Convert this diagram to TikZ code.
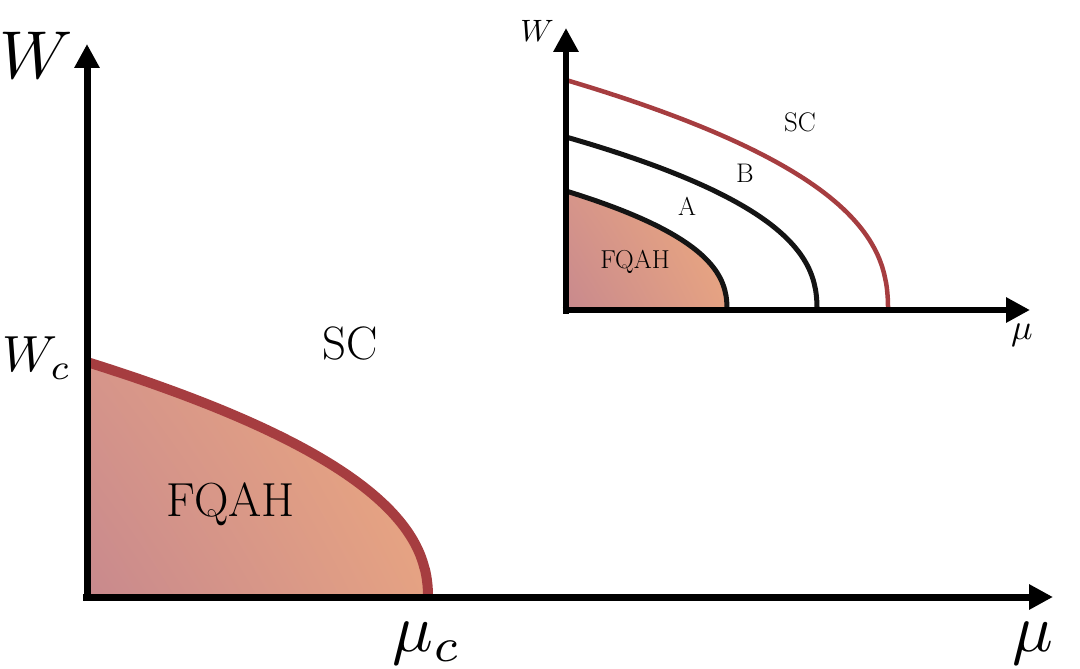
\documentclass[tikz,border=0pt]{standalone}
\usetikzlibrary{arrows.meta,shadings}
\definecolor{curvered}{HTML}{A63D40}
\definecolor{curveblack}{HTML}{141414}
\definecolor{fillLL}{HTML}{C8898D}
\definecolor{fillUL}{HTML}{D6958A}
\definecolor{fillLR}{HTML}{E5A283}
\definecolor{fillUR}{HTML}{EDAA7E}
\begin{document}
\begin{tikzpicture}[x=1bp,y=-1bp,
  axis/.style={line width=7bp,-{Triangle[length=24bp,width=24bp]}},
  iaxis/.style={line width=6.5bp,-{Triangle[length=24bp,width=24bp]}},
  phase/.style={lower left=fillLL,upper left=fillUL,lower right=fillLR,upper right=fillUR},
  lab/.style={inner sep=0pt,anchor=center},
]
\useasboundingbox (0,0) rectangle (1080,669);

% ---------- main diagram ----------
\coordinate (O) at (87,597);
\coordinate (Wtip) at (87,44);
\coordinate (Mtip) at (1053,597);
\coordinate (Obot) at (87,601);
\coordinate (Oleft) at (83,597);

\shade[phase] (O) -- plot[domain=0.001:1,samples=80,variable=\t]
  ({87+341*(1-pow(\t,2.2))},{597-235*\t}) -- cycle;
\draw[curvered,line width=10bp] plot[domain=0.001:1,samples=80,variable=\t]
  ({87+341*(1-pow(\t,2.2))},{597-235*\t});

\draw[axis] (Obot) -- (Wtip);
\draw[axis] (Oleft) -- (Mtip);

\node[lab,scale=6.8] (W) at (36,55) {$W$};
\node[lab,scale=5.1] (Wc) at (37,358) {$W_c$};
\node[lab] (SC) at (350,344) {\fontsize{47}{47}\selectfont SC};
\node[lab] (FQAH) at (231,504) {\fontsize{48}{48}\selectfont FQAH};
\node[lab,scale=6.8] (muc) at (427,643) {$\mu_c$};
\node[lab,scale=6.8] (mu) at (1033,643) {$\mu$};

% ---------- inset ----------
\coordinate (iO) at (566,310);
\coordinate (iWtip) at (566,28);
\coordinate (iMtip) at (1030,310);
\coordinate (iObot) at (566,313.5);
\coordinate (iOleft) at (562.5,310);

\shade[phase] (iO) -- plot[domain=0.001:1,samples=60,variable=\t]
  ({566+161*(1-pow(\t,2.4))},{310-119*\t}) -- cycle;
\draw[curveblack,line width=5bp] plot[domain=0.001:1,samples=60,variable=\t]
  ({566+161*(1-pow(\t,2.4))},{310-119*\t});
\draw[curveblack,line width=5bp] plot[domain=0.001:1,samples=60,variable=\t]
  ({566+251*(1-pow(\t,2.4))},{310-173*\t});
\draw[curvered,line width=4.5bp] plot[domain=0.001:1,samples=60,variable=\t]
  ({566+322*(1-pow(\t,2.4))},{310-230*\t});

\draw[iaxis] (iObot) -- (iWtip);
\draw[iaxis] (iOleft) -- (iMtip);

\node[lab,scale=3.1] (iW) at (537,31) {$W$};
\node[lab] (iSC) at (800,122) {\fontsize{27}{27}\selectfont SC};
\node[lab] (iB) at (745,173) {\fontsize{27}{27}\selectfont B};
\node[lab] (iA) at (687,206) {\fontsize{26}{26}\selectfont A};
\node[lab] (iFQAH) at (635,262) {\fontsize{26}{26}\selectfont FQAH};
\node[lab,scale=3.6] (imu) at (1022,335) {$\mu$};
\end{tikzpicture}
\end{document}
